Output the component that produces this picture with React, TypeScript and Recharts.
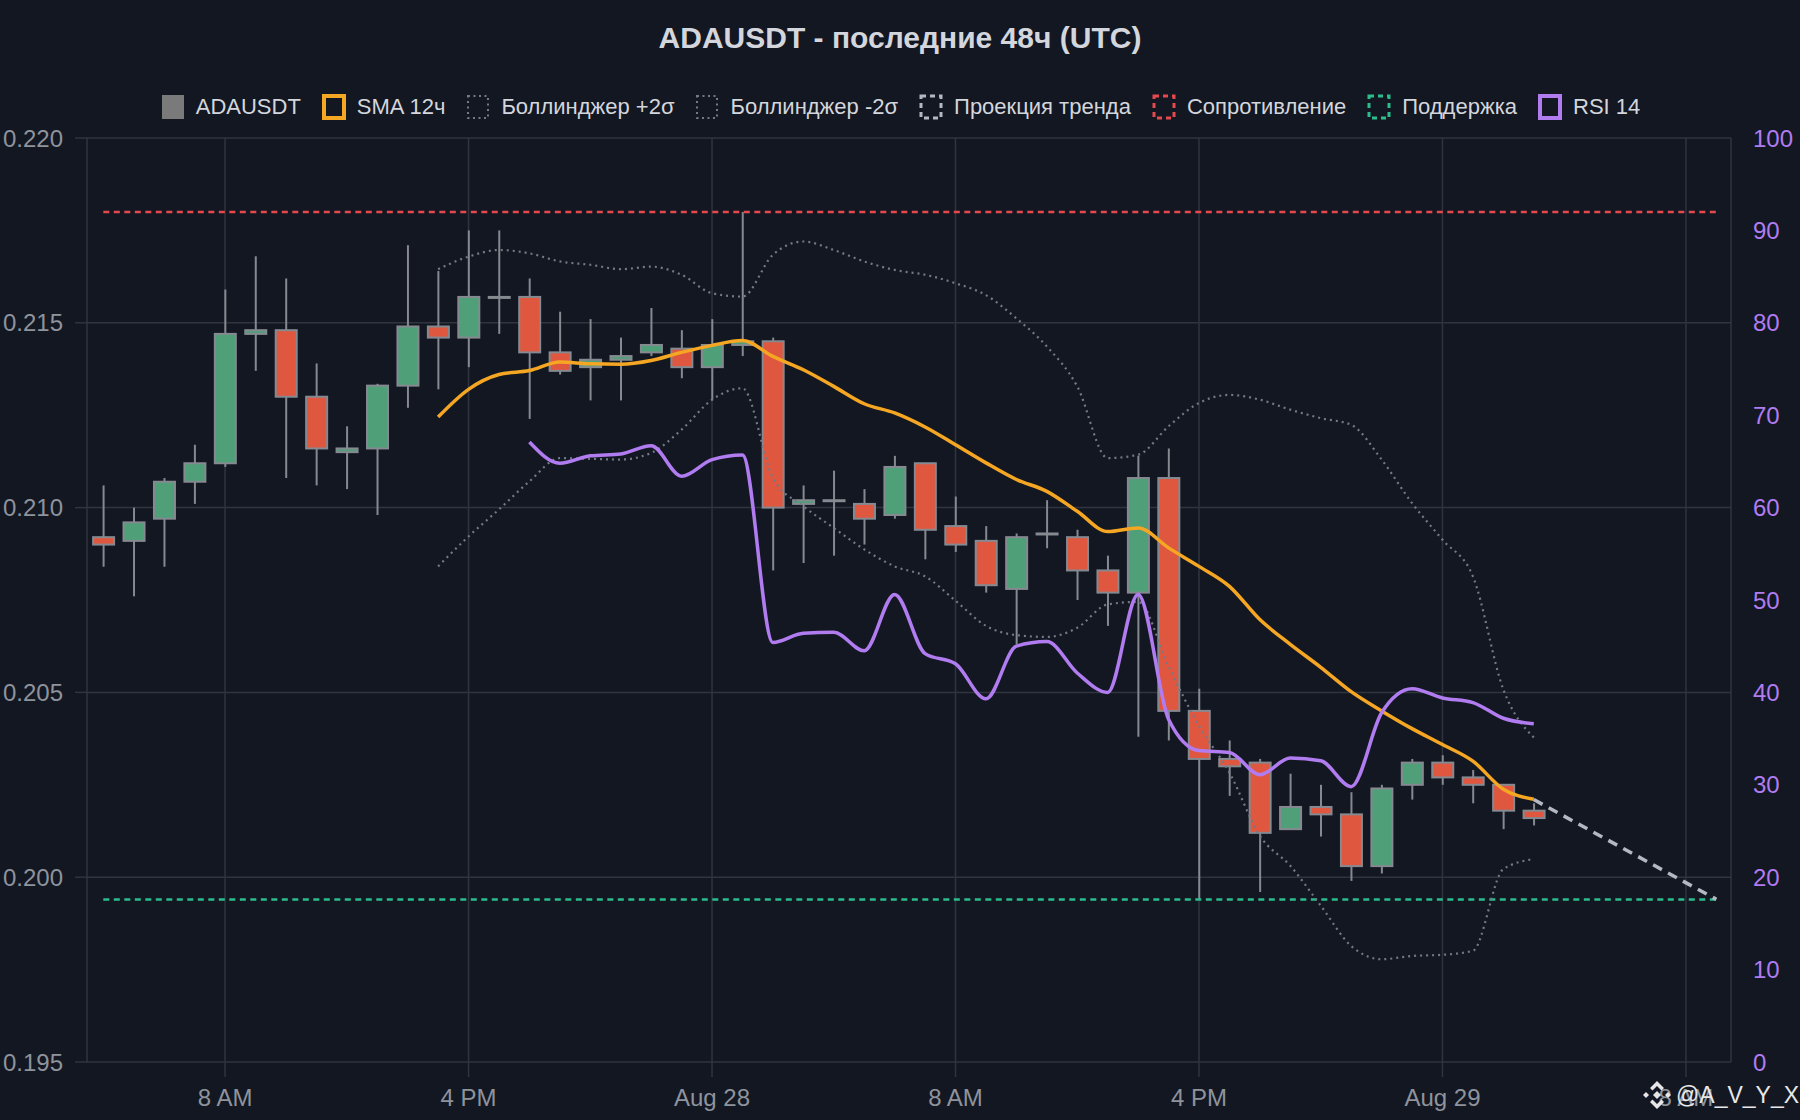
import React from 'react';
import {
  ComposedChart,
  Bar,
  Line,
  XAxis,
  YAxis,
  CartesianGrid,
  Legend,
} from 'recharts';

// ---- data (hours since Aug 27 00:00 UTC) ----
const hours = [
  4, 5, 6, 7, 8, 9, 10, 11, 12, 13, 14, 15, 16, 17, 18, 19, 20, 21, 22, 23,
  24, 25, 26, 27, 28, 29, 30, 31, 32, 33, 34, 35, 36, 37, 38, 39, 40, 41, 42, 43,
  44, 45, 46, 47, 48, 49, 50, 51,
];
const opens = [
  0.2092, 0.2091, 0.2097, 0.2107, 0.2112, 0.2147, 0.2148, 0.2130, 0.2115, 0.2116,
  0.2133, 0.2149, 0.2146, 0.2157, 0.2157, 0.2142, 0.2138, 0.2140, 0.2142, 0.2143,
  0.2138, 0.2144, 0.2145, 0.2101, 0.2102, 0.2101, 0.2098, 0.2112, 0.2095, 0.2091,
  0.2078, 0.2093, 0.2092, 0.2083, 0.2077, 0.2108, 0.2045, 0.2032, 0.2031, 0.2013,
  0.2019, 0.2017, 0.2003, 0.2025, 0.2031, 0.2027, 0.2025, 0.2018,
];
const highs = [
  0.2106, 0.2100, 0.2108, 0.2117, 0.2159, 0.2168, 0.2162, 0.2139, 0.2122, 0.21335,
  0.2171, 0.2164, 0.2175, 0.2175, 0.2162, 0.2153, 0.2151, 0.2146, 0.2154, 0.2148,
  0.2151, 0.2180, 0.2146, 0.2106, 0.2110, 0.2105, 0.2114, 0.2112, 0.2103, 0.2095,
  0.2093, 0.2102, 0.2094, 0.2087, 0.2114, 0.2116, 0.2051, 0.2037, 0.2032, 0.2028,
  0.2025, 0.2023, 0.2025, 0.2032, 0.2033, 0.2029, 0.2025, 0.2020,
];
const lows = [
  0.2084, 0.2076, 0.2084, 0.2101, 0.2111, 0.2137, 0.2108, 0.2106, 0.2105, 0.2098,
  0.2127, 0.2132, 0.2138, 0.2147, 0.2124, 0.2136, 0.2129, 0.2129, 0.2141, 0.2135,
  0.2129, 0.2141, 0.2083, 0.2085, 0.2087, 0.2090, 0.2097, 0.2086, 0.2088, 0.2077,
  0.2063, 0.2089, 0.2075, 0.2068, 0.2038, 0.2037, 0.1994, 0.2022, 0.1996, 0.2013,
  0.2011, 0.1999, 0.2001, 0.2021, 0.2025, 0.2020, 0.2013, 0.2014,
];
const closes = [
  0.2090, 0.2096, 0.2107, 0.2112, 0.2147, 0.2148, 0.2130, 0.2116, 0.2116, 0.2133,
  0.2149, 0.2146, 0.2157, 0.2157, 0.2142, 0.2137, 0.2140, 0.2141, 0.2144, 0.2138,
  0.2144, 0.2145, 0.2100, 0.2102, 0.2102, 0.2097, 0.2111, 0.2094, 0.2090, 0.2079,
  0.2092, 0.2093, 0.2083, 0.2077, 0.2108, 0.2045, 0.2032, 0.2030, 0.2012, 0.2019,
  0.2017, 0.2003, 0.2024, 0.2031, 0.2027, 0.2025, 0.2018, 0.2016,
];
const sma12 = [
  null, null, null, null, null, null, null, null, null, null, null,
  0.21245, 0.2132, 0.2136, 0.21371, 0.21394, 0.21389, 0.21388, 0.21398, 0.2142,
  0.21439, 0.21452, 0.21409, 0.21373, 0.21328, 0.21281, 0.21256, 0.21218, 0.2117,
  0.21121, 0.21076, 0.21044, 0.2099, 0.20935, 0.20945, 0.20891, 0.20841, 0.20787,
  0.20697, 0.2063, 0.20568, 0.20502, 0.2045, 0.20402, 0.20359, 0.20314, 0.20238,
  0.20211,
];
const bollUpper = [
  null, null, null, null, null, null, null, null, null, null, null,
  0.21645, 0.21679, 0.21697, 0.21688, 0.21666, 0.21657, 0.21645, 0.21652, 0.2163,
  0.2158, 0.21571, 0.21684, 0.2172, 0.21697, 0.21666, 0.21643, 0.2163, 0.21607,
  0.21575, 0.21512, 0.21436, 0.21328, 0.21134, 0.21143, 0.2122, 0.21283, 0.21305,
  0.21292, 0.21265, 0.21242, 0.21224, 0.2113, 0.21012, 0.20913, 0.20814, 0.20508,
  0.20378,
];
const bollLower = [
  null, null, null, null, null, null, null, null, null, null, null,
  0.20841, 0.20922, 0.20995, 0.21071, 0.21134, 0.21132, 0.2113, 0.21148, 0.21211,
  0.21292, 0.21323, 0.2108, 0.21004, 0.20945, 0.20887, 0.20841, 0.20814, 0.20748,
  0.2068, 0.20655, 0.2065, 0.20675, 0.20738, 0.20745, 0.2057, 0.20409, 0.20283,
  0.20112, 0.20031, 0.19923, 0.19814, 0.19778, 0.19787, 0.1979, 0.19801, 0.20022,
  0.20049,
];
const rsi14 = [
  null, null, null, null, null, null, null, null, null, null, null, null, null, null,
  67.1, 64.8, 65.6, 65.8, 66.7, 63.4, 65.2, 65.7, 45.4, 46.4, 46.5, 44.5, 50.6,
  44.2, 43.1, 39.3, 45.0, 45.5, 42.1, 40.0, 50.6, 37.1, 33.7, 33.5, 31.1, 32.9,
  32.6, 29.8, 37.8, 40.4, 39.4, 38.9, 37.2, 36.6,
];
const projHours = [51, 57];
const projValues = [0.2021, 0.1994];
const levelHours = [4, 57];
const resistanceLevel = 0.218;
const supportLevel = 0.1994;

const xTicks = [8, 16, 24, 32, 40, 48, 56];
const xTickLabels = ['8 AM', '4 PM', 'Aug 28', '8 AM', '4 PM', 'Aug 29', '8 AM'];
const priceTicks = [0.195, 0.2, 0.205, 0.21, 0.215, 0.22];
const rsiTicks = [0, 10, 20, 30, 40, 50, 60, 70, 80, 90, 100];

// ---- styles ----
const BG = '#131722';
const GRID = '#30343f';
const GREEN = '#4f9f78';
const RED = '#e0573f';
const WICK = '#858990';
const SMA_C = '#f5a623';
const BB_C = '#737a86';
const RES_C = '#e5484d';
const SUP_C = '#2bbd8c';
const PROJ_C = '#b4b8c0';
const RSI_C = '#b07cf0';
const TICK_C = '#8e939c';
const TEXT_C = '#d3d6dc';
const FONT = '"Liberation Sans", Arial, sans-serif';

const legendItems = [
  { label: 'ADAUSDT', kind: 'fill', color: '#7a7a7a' },
  { label: 'SMA 12ч', kind: 'solid', color: SMA_C },
  { label: 'Боллинджер +2σ', kind: 'dot', color: BB_C },
  { label: 'Боллинджер -2σ', kind: 'dot', color: BB_C },
  { label: 'Проекция тренда', kind: 'dash', color: PROJ_C },
  { label: 'Сопротивление', kind: 'dash', color: RES_C },
  { label: 'Поддержка', kind: 'dash', color: SUP_C },
  { label: 'RSI 14', kind: 'solid', color: RSI_C },
];

// ---- build table ----
type Row = { [k: string]: number | null | undefined };
const rowMap = new Map<number, Row>();
const getRow = (t: number): Row => {
  if (!rowMap.has(t)) rowMap.set(t, { t });
  return rowMap.get(t)!;
};
hours.forEach((t, i) => {
  const r = getRow(t);
  r.open = opens[i];
  r.high = highs[i];
  r.low = lows[i];
  r.close = closes[i];
  r.sma = sma12[i];
  r.bbU = bollUpper[i];
  r.bbL = bollLower[i];
  r.rsi = rsi14[i];
});
projHours.forEach((t, i) => {
  getRow(t).proj = projValues[i];
});
levelHours.forEach((t) => {
  const r = getRow(t);
  r.res = resistanceLevel;
  r.sup = supportLevel;
});
const data = Array.from(rowMap.values()).sort((a, b) => (a.t as number) - (b.t as number));

const Candle = (props: any) => {
  const { x, y, width, height, payload } = props;
  if (!payload || payload.open == null || height == null || isNaN(height)) return null;
  const { open, close, high, low } = payload;
  const range = high - low;
  const pxPer = range > 0 ? height / range : 0;
  const yOpen = y + (high - open) * pxPer;
  const yClose = y + (high - close) * pxPer;
  const top = Math.min(yOpen, yClose);
  const bodyH = Math.max(Math.abs(yOpen - yClose), 1);
  const cx = x + width / 2;
  const fill = close > open ? GREEN : close < open ? RED : GREEN;
  return (
    <g>
      <line x1={cx} x2={cx} y1={y} y2={y + height} stroke={WICK} strokeWidth={2} />
      <rect x={x} y={top} width={width} height={bodyH} fill={fill} stroke={WICK} strokeWidth={2} />
    </g>
  );
};

const LegendIcon = ({ kind, color }: { kind: string; color: string }) => {
  if (kind === 'fill') {
    return (
      <svg width={26} height={26}>
        <rect x={2} y={1} width={22} height={24} fill={color} />
      </svg>
    );
  }
  const dash = kind === 'dot' ? '2 3.5' : kind === 'dash' ? '5 4' : undefined;
  const sw = kind === 'solid' ? 4 : kind === 'dot' ? 2 : 3;
  return (
    <svg width={26} height={26}>
      <rect
        x={3}
        y={2}
        width={20}
        height={22}
        fill="none"
        stroke={color}
        strokeWidth={sw}
        strokeDasharray={dash}
      />
    </svg>
  );
};

const LegendContent = () => (
  <div
    style={{
      display: 'flex',
      justifyContent: 'center',
      alignItems: 'center',
      gap: 20,
      height: 30,
      fontFamily: FONT,
      fontSize: 22,
      color: TEXT_C,
      whiteSpace: 'nowrap',
    }}
  >
    {legendItems.map((it) => (
      <div key={it.label} style={{ display: 'flex', alignItems: 'center', gap: 10 }}>
        <LegendIcon kind={it.kind} color={it.color} />
        <span>{it.label}</span>
      </div>
    ))}
  </div>
);

const BinanceLogo = () => (
  <svg width={30} height={30} viewBox="0 0 30 30">
    <g fill="#e6e6e6">
      <polygon points="15,1 22,8 19.5,10.5 15,6 10.5,10.5 8,8" />
      <polygon points="15,29 22,22 19.5,19.5 15,24 10.5,19.5 8,22" />
      <polygon points="1,15 4,12 7,15 4,18" />
      <polygon points="23,15 26,12 29,15 26,18" />
      <polygon points="15,11 19,15 15,19 11,15" />
    </g>
  </svg>
);

export default function App() {
  return (
    <div
      style={{
        position: 'absolute',
        left: 0,
        top: 0,
        width: 1800,
        height: 1120,
        background: BG,
        fontFamily: FONT,
        overflow: 'hidden',
      }}
    >
      <div
        style={{
          position: 'absolute',
          left: 0,
          top: 20,
          width: 1800,
          textAlign: 'center',
          fontSize: 30,
          fontWeight: 'bold',
          color: TEXT_C,
          lineHeight: '36px',
        }}
      >
        ADAUSDT - последние 48ч (UTC)
      </div>
      <div style={{ position: 'absolute', left: 0, top: 0 }}>
        <ComposedChart
          width={1800}
          height={1120}
          data={data}
          margin={{ top: 138, right: 0, bottom: 0, left: 0 }}
        >
          <CartesianGrid stroke={GRID} strokeWidth={1.5} yAxisId="price" />
          <XAxis
            dataKey="t"
            type="number"
            domain={[3.464, 57.48]}
            allowDataOverflow
            ticks={xTicks}
            tickFormatter={(v: number) => xTickLabels[xTicks.indexOf(v)] ?? ''}
            axisLine={false}
            tickLine={{ stroke: GRID, strokeWidth: 1.5 }}
            tickSize={15}
            tickMargin={12}
            height={58}
            tick={{ fill: TICK_C, fontSize: 24, fontFamily: FONT }}
            interval={0}
          />
          <YAxis
            yAxisId="price"
            orientation="left"
            domain={[0.195, 0.22]}
            allowDataOverflow
            ticks={priceTicks}
            tickFormatter={(v: number) => v.toFixed(3)}
            axisLine={false}
            tickLine={{ stroke: GRID, strokeWidth: 1.5 }}
            tickSize={12}
            tickMargin={12}
            width={87}
            tick={{ fill: TICK_C, fontSize: 24, fontFamily: FONT }}
            interval={0}
          />
          <YAxis
            yAxisId="rsi"
            orientation="right"
            domain={[0, 100]}
            allowDataOverflow
            ticks={rsiTicks}
            axisLine={false}
            tickLine={false}
            tickSize={10}
            tickMargin={12}
            width={69}
            tick={{ fill: RSI_C, fontSize: 24, fontFamily: FONT }}
            interval={0}
          />
          <Legend
            layout="horizontal"
            verticalAlign="middle"
            align="center"
            content={<LegendContent />}
            wrapperStyle={{ top: 92, left: 0, width: 1800, height: 30 }}
          />
          <Line
            yAxisId="price"
            dataKey="res"
            stroke={RES_C}
            strokeWidth={2.5}
            strokeDasharray="6 4.5"
            dot={false}
            connectNulls
            isAnimationActive={false}
            legendType="none"
          />
          <Line
            yAxisId="price"
            dataKey="sup"
            stroke={SUP_C}
            strokeWidth={2.5}
            strokeDasharray="6 4.5"
            dot={false}
            connectNulls
            isAnimationActive={false}
            legendType="none"
          />
          <Line
            yAxisId="price"
            dataKey="bbU"
            type="monotone"
            stroke={BB_C}
            strokeWidth={2.2}
            strokeDasharray="2 4"
            dot={false}
            isAnimationActive={false}
          />
          <Line
            yAxisId="price"
            dataKey="bbL"
            type="monotone"
            stroke={BB_C}
            strokeWidth={2.2}
            strokeDasharray="2 4"
            dot={false}
            isAnimationActive={false}
          />
          <Bar
            yAxisId="price"
            dataKey={(d: any) => (d.open == null ? null : [d.low, d.high])}
            barSize={21}
            shape={<Candle />}
            isAnimationActive={false}
          />
          <Line
            yAxisId="price"
            dataKey="sma"
            type="monotone"
            stroke={SMA_C}
            strokeWidth={3.5}
            dot={false}
            isAnimationActive={false}
          />
          <Line
            yAxisId="price"
            dataKey="proj"
            stroke={PROJ_C}
            strokeWidth={3.5}
            strokeDasharray="10 7"
            dot={false}
            connectNulls
            isAnimationActive={false}
          />
          <Line
            yAxisId="rsi"
            dataKey="rsi"
            type="monotone"
            stroke={RSI_C}
            strokeWidth={3.5}
            dot={false}
            isAnimationActive={false}
          />
        </ComposedChart>
      </div>
      <div
        style={{
          position: 'absolute',
          left: 1642,
          top: 1080,
          display: 'flex',
          alignItems: 'center',
          gap: 4,
          color: '#e8e8e8',
          fontSize: 23,
        }}
      >
        <BinanceLogo />
        <span>@A_V_Y_X</span>
      </div>
    </div>
  );
}
